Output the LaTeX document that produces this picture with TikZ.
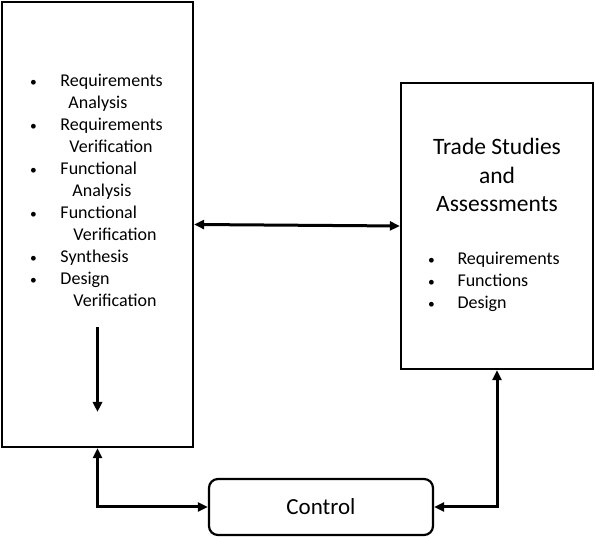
\documentclass[tikz,border=0pt]{standalone}
\usepackage{fontspec}
\setmainfont{Carlito}
\usepackage{tikz}
\usetikzlibrary{arrows.meta}
\newcommand{\listdot}{\makebox[6pt][c]{\scalebox{0.75}{\textbullet}}}

\begin{document}
\begin{tikzpicture}[x=1pt, y=1pt, line width=3pt,
  box/.style = {draw, rectangle, inner sep=0pt, line width=2.3pt},
  ctrlbox/.style = {draw, rectangle, rounded corners=9pt, line width=2.2pt, minimum width=224pt, minimum height=56pt},
  flow/.style = {{Triangle[length=10pt,width=9pt]}-{Triangle[length=10pt,width=9pt]}},
  listfont/.style = {font=\fontsize{18}{22}\selectfont}]
\useasboundingbox (0,0) rectangle (595,537);
\node[box, minimum width=191pt, minimum height=445pt] (sebox) at (97.5,312.5) {};
\node[box, minimum width=192pt, minimum height=286pt] (tradebox) at (497,311) {};
\node[ctrlbox, font=\fontsize{23}{28}\selectfont] (control) at (321,30) {\raisebox{-2pt}{Control}};
% list in the left box
\node[listfont, inner sep=0pt, anchor=base west] (selist) at (29,450)
  {\begin{tabular}[t]{@{}p{30pt}@{}l@{}}
   \listdot & Requirements\\
   & \hspace{8pt}Analysis\\
   \listdot & Requirements\\
   & \hspace{9pt}Verification\\
   \listdot & Functional\\
   & \hspace{12pt}Analysis\\
   \listdot & Functional\\
   & \hspace{13pt}Verification\\
   \listdot & Synthesis\\
   \listdot & Design\\
   & \hspace{13pt}Verification
   \end{tabular}};
% trade studies text
\node[font=\fontsize{23.5}{28.5}\selectfont, inner sep=0pt, anchor=base] (tradetitle) at (497,382)
  {\begin{tabular}[t]{@{}c@{}}Trade Studies\\ and\\ Assessments\end{tabular}};
\node[listfont, inner sep=0pt, anchor=base west] (tradelist) at (427,272)
  {\begin{tabular}[t]{@{}p{29pt}@{}l@{}}
   \listdot & Requirements\\
   \listdot & Functions\\
   \listdot & Design
   \end{tabular}};
\coordinate (flowtop) at (97.5,210);
\coordinate (flowend) at (97.5,125);
\draw[-{Triangle[length=10pt,width=9pt]}] (flowtop) -- (flowend);
\draw[flow] (sebox.east) -- (tradebox.west);
\draw[flow] (sebox.south) |- (control.west);
\draw[flow] (control.east) -| (tradebox.south);
\end{tikzpicture}
\end{document}
